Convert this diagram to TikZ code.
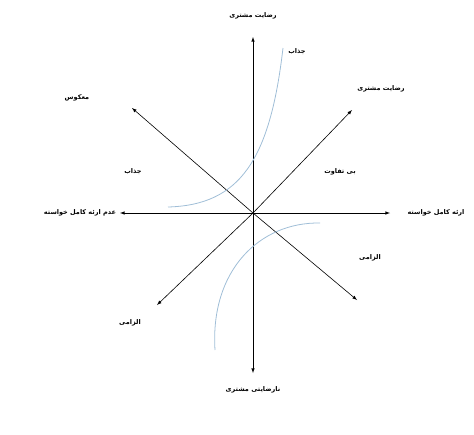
\documentclass[tikz,border=0pt]{standalone}
\usepackage{fontspec}
\usepackage{tikz}
\TeXXeTstate=1
\newfontfamily\arabicfont[Script=Arabic]{DejaVu Sans}
\newcommand{\fa}[1]{{\arabicfont\bfseries\fontsize{6.5}{8}\selectfont\beginR #1\endR}}
\definecolor{curveblue}{RGB}{160,190,215}
\usetikzlibrary{positioning}

\begin{document}
\begin{tikzpicture}[x=1pt,y=-1pt,>=latex,every node/.style={inner sep=1pt}]
\useasboundingbox (0,0) rectangle (474,434);
\coordinate (o) at (253,213);
% axes
\coordinate (top) at (253,37);
\coordinate (bottom) at (253,373);
\coordinate (left) at (120,213);
\coordinate (right) at (390,213);
\coordinate (ul) at (132,108);
\coordinate (ur) at (352,110);
\coordinate (ll) at (157,305);
\coordinate (lr) at (357,300);
\foreach \e in {top,bottom,left,right,ul,ur,ll,lr}
  \draw[->,line width=0.6pt] (o) -- (\e);
% curves
\draw[curveblue,line width=0.8pt] (168,207) .. controls (240,205) and (270,160) .. (283,48);
\draw[curveblue,line width=0.8pt] (320,223) .. controls (260,222) and (210,270) .. (215,350);
% labels
\node (ltop) at (253,16) {\fa{رضایت مشتری}};
\node (lattr1) at (297,52) {\fa{جذاب}};
\node (lsat) at (381,89) {\fa{رضایت مشتری}};
\node (lrev) at (77,98) {\fa{معکوس}};
\node (lattr2) at (133,172) {\fa{جذاب}};
\node (lind) at (340,172) {\fa{بی تفاوت}};
\node (lnot) at (80,213) {\fa{عدم ارئه کامل خواسته}};
\node (lfull) at (436,213) {\fa{ارئه کامل خواسته}};
\node (lmust1) at (370,258) {\fa{الزامی}};
\node (lmust2) at (130,323) {\fa{الزامی}};
\node (lbot) at (253,390) {\fa{نارضایتی مشتری}};
\end{tikzpicture}
\end{document}
